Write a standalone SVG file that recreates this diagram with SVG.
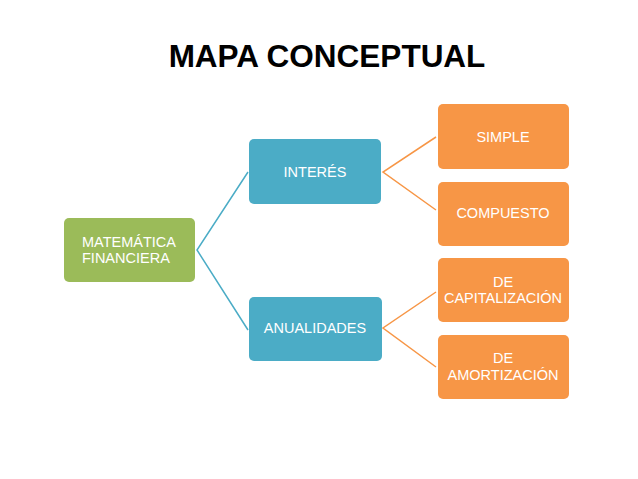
<svg xmlns="http://www.w3.org/2000/svg" width="638" height="479" viewBox="0 0 638 479">
<style>
.t{font-family:"Liberation Sans",Arial,sans-serif;font-size:14.5px;fill:#ffffff;text-anchor:middle}
.g{fill:#9BBB59}
.b{fill:#4BACC6}
.o{fill:#F79646}
.cb{stroke:#4BACC6;stroke-width:1.5;fill:none}
.co{stroke:#F79646;stroke-width:1.5;fill:none}
</style>
<rect width="638" height="479" fill="#ffffff"/>
<text x="327" y="67" font-family="Liberation Sans,Arial,sans-serif" font-size="31.5" font-weight="bold" text-anchor="middle" fill="#000000">MAPA CONCEPTUAL</text>
<g id="connectors">
<polyline class="cb" points="248,172 197,250 248,330"/>
<polyline class="co" points="436,137 383,172 436,210"/>
<polyline class="co" points="436,292 383,328 436,367"/>
</g>
<g id="matematica">
<rect class="g" x="64" y="218" width="131" height="64" rx="5"/>
<text class="t" x="82" y="247" style="text-anchor:start">MATEMÁTICA</text>
<text class="t" x="82" y="263" style="text-anchor:start">FINANCIERA</text>
</g>
<g id="interes">
<rect class="b" x="249" y="139" width="132" height="65" rx="5"/>
<text class="t" x="315" y="177">INTERÉS</text>
</g>
<g id="anualidades">
<rect class="b" x="249" y="297" width="133" height="64" rx="5"/>
<text class="t" x="315" y="333">ANUALIDADES</text>
</g>
<g id="simple">
<rect class="o" x="438" y="104" width="131" height="65" rx="5"/>
<text class="t" x="503" y="142">SIMPLE</text>
</g>
<g id="compuesto">
<rect class="o" x="438" y="182" width="131" height="64" rx="5"/>
<text class="t" x="503" y="218">COMPUESTO</text>
</g>
<g id="capitalizacion">
<rect class="o" x="438" y="258" width="131" height="64" rx="5"/>
<text class="t" x="503" y="287">DE</text>
<text class="t" x="503" y="303">CAPITALIZACIÓN</text>
</g>
<g id="amortizacion">
<rect class="o" x="438" y="335" width="131" height="64" rx="5"/>
<text class="t" x="503" y="363">DE</text>
<text class="t" x="503" y="380">AMORTIZACIÓN</text>
</g>
</svg>
